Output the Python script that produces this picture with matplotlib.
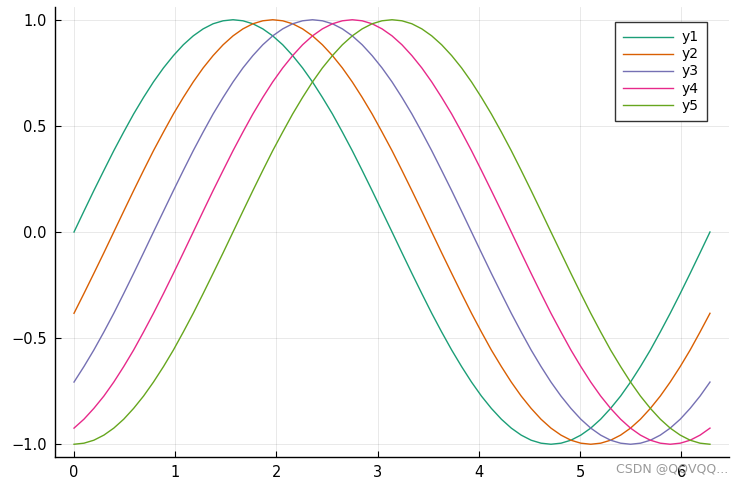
import matplotlib
matplotlib.use('Agg')
import matplotlib.pyplot as plt

# sample points (0 .. 2pi, step pi/32)
x = [0.0, .098, .196, .295, .393, .491, .589, .687, .785, .884, .982, 1.080, 1.178, 1.276,
     1.374, 1.473, 1.571, 1.669, 1.767, 1.865, 1.963, 2.062, 2.160, 2.258, 2.356, 2.454,
     2.553, 2.651, 2.749, 2.847, 2.945, 3.043, 3.142, 3.240, 3.338, 3.436, 3.534, 3.632,
     3.731, 3.829, 3.927, 4.025, 4.123, 4.222, 4.320, 4.418, 4.516, 4.614, 4.712, 4.811,
     4.909, 5.007, 5.105, 5.203, 5.301, 5.400, 5.498, 5.596, 5.694, 5.792, 5.890, 5.989,
     6.087, 6.185, 6.283]

y1 = [0, .098, .195, .290, .383, .471, .556, .634, .707, .773, .831, .882, .924, .957, .981, .995,
      1, .995, .981, .957, .924, .882, .831, .773, .707, .634, .556, .471, .383, .290, .195, .098,
      0, -.098, -.195, -.290, -.383, -.471, -.556, -.634, -.707, -.773, -.831, -.882, -.924, -.957, -.981, -.995,
      -1, -.995, -.981, -.957, -.924, -.882, -.831, -.773, -.707, -.634, -.556, -.471, -.383, -.290, -.195, -.098,
      0]
y2 = [-.383, -.290, -.195, -.098,
      0, .098, .195, .290, .383, .471, .556, .634, .707, .773, .831, .882, .924, .957, .981, .995,
      1, .995, .981, .957, .924, .882, .831, .773, .707, .634, .556, .471, .383, .290, .195, .098,
      0, -.098, -.195, -.290, -.383, -.471, -.556, -.634, -.707, -.773, -.831, -.882, -.924, -.957, -.981, -.995,
      -1, -.995, -.981, -.957, -.924, -.882, -.831, -.773, -.707, -.634, -.556, -.471, -.383]
y3 = [-.707, -.634, -.556, -.471, -.383, -.290, -.195, -.098,
      0, .098, .195, .290, .383, .471, .556, .634, .707, .773, .831, .882, .924, .957, .981, .995,
      1, .995, .981, .957, .924, .882, .831, .773, .707, .634, .556, .471, .383, .290, .195, .098,
      0, -.098, -.195, -.290, -.383, -.471, -.556, -.634, -.707, -.773, -.831, -.882, -.924, -.957, -.981, -.995,
      -1, -.995, -.981, -.957, -.924, -.882, -.831, -.773, -.707]
y4 = [-.924, -.882, -.831, -.773, -.707, -.634, -.556, -.471, -.383, -.290, -.195, -.098,
      0, .098, .195, .290, .383, .471, .556, .634, .707, .773, .831, .882, .924, .957, .981, .995,
      1, .995, .981, .957, .924, .882, .831, .773, .707, .634, .556, .471, .383, .290, .195, .098,
      0, -.098, -.195, -.290, -.383, -.471, -.556, -.634, -.707, -.773, -.831, -.882, -.924, -.957, -.981, -.995,
      -1, -.995, -.981, -.957, -.924]
y5 = [-1, -.995, -.981, -.957, -.924, -.882, -.831, -.773, -.707, -.634, -.556, -.471, -.383, -.290, -.195, -.098,
      0, .098, .195, .290, .383, .471, .556, .634, .707, .773, .831, .882, .924, .957, .981, .995,
      1, .995, .981, .957, .924, .882, .831, .773, .707, .634, .556, .471, .383, .290, .195, .098,
      0, -.098, -.195, -.290, -.383, -.471, -.556, -.634, -.707, -.773, -.831, -.882, -.924, -.957, -.981, -.995,
      -1]

series = [y1, y2, y3, y4, y5]
labels = ['y1', 'y2', 'y3', 'y4', 'y5']
colors = ['#1b9e77', '#d95f02', '#7570b3', '#e7298a', '#66a61e']
xticks = [0, 1, 2, 3, 4, 5, 6]
yticks = [-1.0, -0.5, 0.0, 0.5, 1.0]

fig = plt.figure(figsize=(7.42, 4.86), dpi=100)
ax = fig.add_axes([0.0741, 0.0597, 0.9084, 0.9259])

for ys, lab, c in zip(series, labels, colors):
    ax.plot(x, ys, color=c, lw=1.0, label=lab)

ax.set_xlim(-0.188, 6.471)
ax.set_ylim(-1.06, 1.06)
ax.set_xticks(xticks)
ax.set_yticks(yticks)
ax.set_yticklabels(['\u22121.0', '\u22120.5', '0.0', '0.5', '1.0'])
ax.grid(True, color='black', alpha=0.1, lw=0.6)
ax.tick_params(direction='in', length=4, width=0.8, labelsize=10.5, pad=6)
for s in ['top', 'right']:
    ax.spines[s].set_visible(False)
for s in ['left', 'bottom']:
    ax.spines[s].set_linewidth(1.0)

leg = ax.legend(loc='upper right', bbox_to_anchor=(0.978, 0.982), fontsize=10,
                fancybox=False, framealpha=1, edgecolor='#333333',
                handlelength=3.6, labelspacing=0.22, borderpad=0.6, handletextpad=0.6)
leg.get_frame().set_linewidth(1.0)

fig.text(0.981, 0.035, 'CSDN @QQVQQ...', color='#999999', fontsize=9, ha='right', va='center')

fig.savefig('out.png', dpi=100)
